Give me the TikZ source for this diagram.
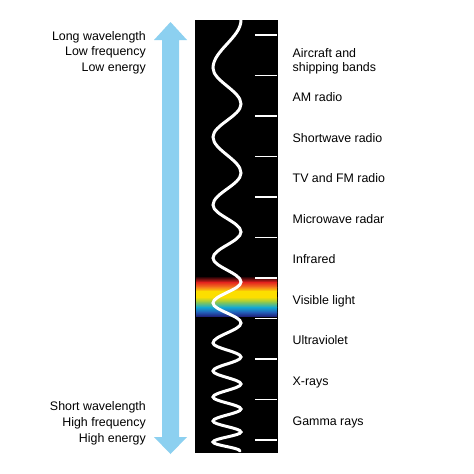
\documentclass[tikz,border=0pt]{standalone}
\usepackage{fontspec}
\setmainfont{Liberation Sans}
\definecolor{arrowblue}{RGB}{140,208,240}
\definecolor{sdred}{RGB}{150,15,20}
\definecolor{sred}{RGB}{228,35,30}
\definecolor{sorange}{RGB}{245,125,30}
\definecolor{syellow}{RGB}{252,222,0}
\definecolor{sgreen}{RGB}{140,200,80}
\definecolor{scyan}{RGB}{20,170,210}
\definecolor{sblue}{RGB}{35,95,185}
\definecolor{snavy}{RGB}{30,30,120}
\begin{document}
\begin{tikzpicture}[x=1pt,y=-1pt,
  lab/.style={font=\fontsize{12.4}{14}\selectfont, inner sep=0pt},
  tickmark/.style={white, line width=1.8pt},
  wave/.style={white, line width=3pt, line cap=round}]
\useasboundingbox (0,0) rectangle (474,474);
\fill[white] (0,0) rectangle (474,474);
% double arrow
\fill[arrowblue] (162,40) -- (154,40) -- (170.5,22) -- (187,40) -- (179,40)
  -- (179,437) -- (187,437) -- (170.5,454) -- (154,437) -- (162,437) -- cycle;
% black panel
\fill[black] (195,20) rectangle (278,453);
% visible spectrum band
\shade[top color=black!60!sdred, bottom color=sred] (196,277.5) rectangle (277,282.3);
\shade[top color=sred, bottom color=sorange] (196,282) rectangle (277,287.3);
\shade[top color=sorange, bottom color=syellow] (196,287) rectangle (277,291.3);
\fill[syellow] (196,291) rectangle (277,297.3);
\shade[top color=syellow, bottom color=sgreen] (196,297) rectangle (277,302.3);
\shade[top color=sgreen, bottom color=scyan] (196,302) rectangle (277,307.3);
\shade[top color=scyan, bottom color=sblue] (196,307) rectangle (277,312.3);
\shade[top color=sblue, bottom color=snavy] (196,312) rectangle (277,316.5);
% ticks
\foreach \k in {0,...,10}
  \draw[tickmark] (255,{35+40.5*\k}) -- (277,{35+40.5*\k});
% wave
\draw[wave] (241,20)
  \foreach \ya/\yb/\xa/\xb in {20/68/241/213, 68/104/213/241, 104/137/241/213,
     137/173/213/241, 173/205/241/213, 205/232/213/241, 232/258/241/213,
     258/282/213/241, 282/303/241/213, 303/323/213/241, 323/343/241/213,
     343/357/213/241, 357/371/241/213, 371/384/213/241, 384/397/241/213,
     397/409/213/241, 409/421/241/213, 421/432/213/241, 432/442/241/213,
     442/451/213/240}
  { .. controls (\xa,{\ya+0.3634*(\yb-\ya)}) and (\xb,{\yb-0.3634*(\yb-\ya)}) .. (\xb,\yb) };
% left labels
\node[lab, anchor=base east] (t1) at (146,40) {Long wavelength};
\node[lab, anchor=base east] (t2) at (146,55.8) {Low frequency};
\node[lab, anchor=base east] (t3) at (146,71.6) {Low energy};
\node[lab, anchor=base east] (b1) at (146,410.7) {Short wavelength};
\node[lab, anchor=base east] (b2) at (146,426.5) {High frequency};
\node[lab, anchor=base east] (b3) at (146,442.3) {High energy};
% right labels
\node[lab, anchor=base west] (r1a) at (292.5,57.3) {Aircraft and};
\node[lab, anchor=base west] (r1b) at (292.5,71.9) {shipping bands};
\node[lab, anchor=base west] (r2) at (292.5,101.7) {AM radio};
\node[lab, anchor=base west] (r3) at (292.5,142.2) {Shortwave radio};
\node[lab, anchor=base west] (r4) at (292.5,182.7) {TV and FM radio};
\node[lab, anchor=base west] (r5) at (292.5,223.2) {Microwave radar};
\node[lab, anchor=base west] (r6) at (292.5,263.7) {Infrared};
\node[lab, anchor=base west] (r7) at (292.5,304.2) {Visible light};
\node[lab, anchor=base west] (r8) at (292.5,344.7) {Ultraviolet};
\node[lab, anchor=base west] (r9) at (292.5,385.2) {X-rays};
\node[lab, anchor=base west] (r10) at (292.5,425.7) {Gamma rays};
\end{tikzpicture}
\end{document}
